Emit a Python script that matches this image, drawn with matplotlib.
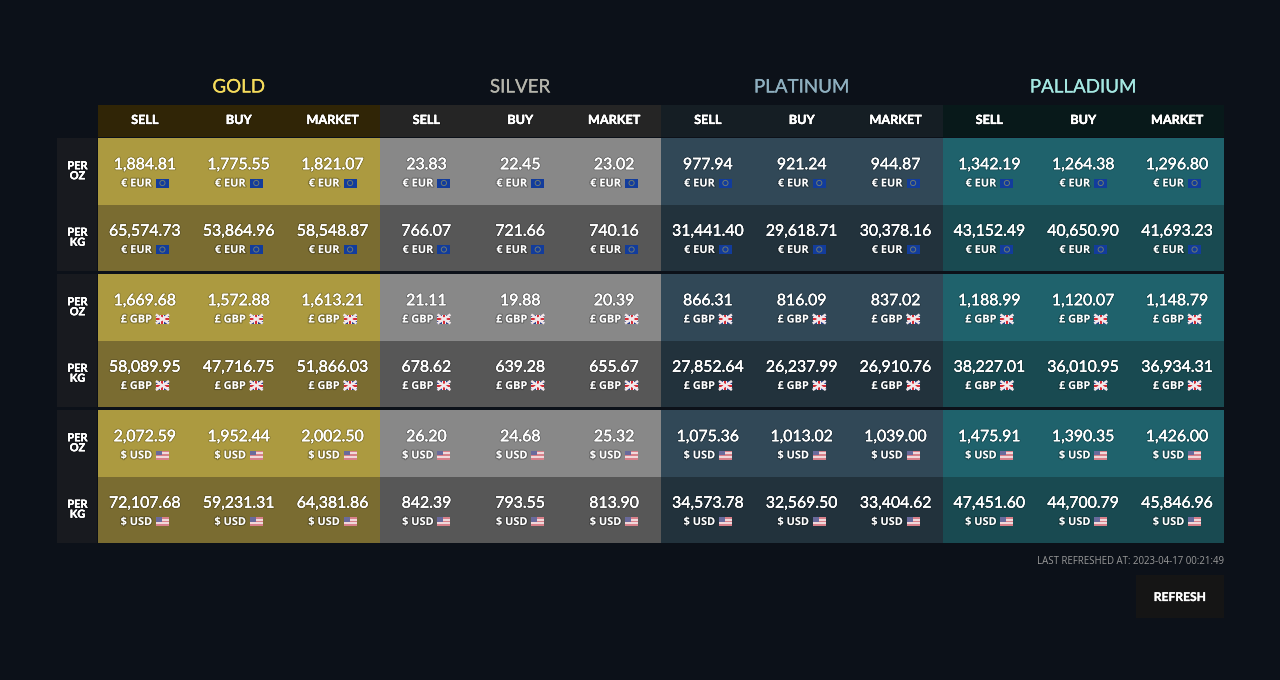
import matplotlib
matplotlib.use('Agg')
import matplotlib.pyplot as plt
import matplotlib.patheffects as pe
from matplotlib.patches import Rectangle

metals = ['GOLD', 'SILVER', 'PLATINUM', 'PALLADIUM']
columns = ['SELL', 'BUY', 'MARKET']
units = [['PER', 'OZ'], ['PER', 'KG']]
currencies = ['€ EUR', '£ GBP', '$ USD']

# one list per row: gold, silver, platinum, palladium (sell, buy, market)
eur_oz = ['1,884.81', '1,775.55', '1,821.07', '23.83', '22.45', '23.02',
          '977.94', '921.24', '944.87', '1,342.19', '1,264.38', '1,296.80']
eur_kg = ['65,574.73', '53,864.96', '58,548.87', '766.07', '721.66', '740.16',
          '31,441.40', '29,618.71', '30,378.16', '43,152.49', '40,650.90', '41,693.23']
gbp_oz = ['1,669.68', '1,572.88', '1,613.21', '21.11', '19.88', '20.39',
          '866.31', '816.09', '837.02', '1,188.99', '1,120.07', '1,148.79']
gbp_kg = ['58,089.95', '47,716.75', '51,866.03', '678.62', '639.28', '655.67',
          '27,852.64', '26,237.99', '26,910.76', '38,227.01', '36,010.95', '36,934.31']
usd_oz = ['2,072.59', '1,952.44', '2,002.50', '26.20', '24.68', '25.32',
          '1,075.36', '1,013.02', '1,039.00', '1,475.91', '1,390.35', '1,426.00']
usd_kg = ['72,107.68', '59,231.31', '64,381.86', '842.39', '793.55', '813.90',
          '34,573.78', '32,569.50', '33,404.62', '47,451.60', '44,700.79', '45,846.96']
rows = [eur_oz, eur_kg, gbp_oz, gbp_kg, usd_oz, usd_kg]

title_colors = ['#f6dc5c', '#b5b5ac', '#8fb0c0', '#a5e8e2']
head_colors = ['#302506', '#252525', '#151e24', '#08191a']
light_colors = ['#ac9a40', '#888888', '#314857', '#1f626c']
dark_colors = ['#7a6c31', '#575757', '#22323c', '#194a51']

bg = '#0c1119'
label_bg = '#181a1f'
row_tops = [138, 204.5, 274, 340.5, 410, 476.5]
row_h = 66.5
left = 98
metal_w = 281.5
col_w = metal_w / 3

# thin dark halo behind the text, the page uses a text shadow
shadow = [pe.withStroke(linewidth=1.6, foreground='#000000', alpha=0.25)]
heavy = [pe.withStroke(linewidth=1.6, foreground='#000000', alpha=0.25),
         pe.withStroke(linewidth=0.2, foreground='white')]


def flag(ax, x, y, cur):
    # small currency flag, 13x9 px, x is the left edge and y the centre
    w, h = 13, 9
    top = y - h / 2
    if cur == 0:
        ax.add_patch(Rectangle((x, top), w, h, fc='#123c9c', ec='none'))
        ax.add_patch(plt.Circle((x + w / 2, y), 2.6, fc='none', ec='#6f7a70', lw=0.7))
    elif cur == 1:
        ax.add_patch(Rectangle((x, top), w, h, fc='#2a3f90', ec='none'))
        ax.plot([x, x + w], [top, top + h], color='#f2e8ea', lw=1.8, solid_capstyle='butt')
        ax.plot([x, x + w], [top + h, top], color='#f2e8ea', lw=1.8, solid_capstyle='butt')
        ax.add_patch(Rectangle((x + w / 2 - 2, top), 4, h, fc='#f2e8ea', ec='none'))
        ax.add_patch(Rectangle((x, y - 2), w, 4, fc='#f2e8ea', ec='none'))
        ax.add_patch(Rectangle((x + w / 2 - 1, top), 2, h, fc='#d62b35', ec='none'))
        ax.add_patch(Rectangle((x, y - 1), w, 2, fc='#d62b35', ec='none'))
    else:
        ax.add_patch(Rectangle((x, top), w, h, fc='#f0d8da', ec='none'))
        for k in range(0, 5, 2):
            ax.add_patch(Rectangle((x, top + k * 1.8), w, 1.8, fc='#d8808a', ec='none'))
        ax.add_patch(Rectangle((x, top), 6, 4.5, fc='#6a6a9c', ec='none'))


fig = plt.figure(figsize=(12.8, 6.8), dpi=100, facecolor=bg)
ax = fig.add_axes([0, 0, 1, 1])
ax.set_xlim(0, 1280)
ax.set_ylim(680, 0)
ax.axis('off')

for m, metal in enumerate(metals):
    x0 = left + m * metal_w
    t = ax.text(x0 + metal_w / 2, 92.5, metal, color=title_colors[m], fontsize=13.5,
                family='Lato', ha='center', va='baseline')
    t.set_path_effects([pe.withStroke(linewidth=0.15, foreground=title_colors[m])])
    ax.add_patch(Rectangle((x0, 105), metal_w, 32, fc=head_colors[m], ec='none'))
    for c, col in enumerate(columns):
        t = ax.text(x0 + (c + 0.5) * col_w, 124, col, color='white', fontsize=9.1,
                    family='Lato', fontweight='bold', ha='center', va='baseline')
        t.set_path_effects(heavy)

for r, top in enumerate(row_tops):
    cur = r // 2
    unit = units[r % 2]
    ax.add_patch(Rectangle((57, top), 39.5, row_h, fc=label_bg, ec='none'))
    for k, word in enumerate(unit):
        t = ax.text(77.5, top + 31.2 + k * 10, word, color='white', fontsize=7.9,
                    family='Lato', fontweight='bold', ha='center', va='baseline')
        t.set_path_effects(heavy)
    for m in range(4):
        x0 = left + m * metal_w
        shade = light_colors[m] if r % 2 == 0 else dark_colors[m]
        ax.add_patch(Rectangle((x0, top), metal_w, row_h, fc=shade, ec='none'))
        for c in range(3):
            cx = x0 + (c + 0.5) * col_w
            t = ax.text(cx, top + 31.2, rows[r][m * 3 + c], color='white', fontsize=11.4,
                        family='Lato', ha='center', va='baseline')
            t.set_path_effects([pe.withStroke(linewidth=1.6, foreground='#000000', alpha=0.2),
                                pe.withStroke(linewidth=0.08, foreground='white')])
            t = ax.text(cx - 8.5, top + 48.5, currencies[cur], color='white', fontsize=7.9,
                        family='Open Sans', fontweight='bold', ha='center', va='baseline')
            t.set_path_effects(shadow)
            flag(ax, cx + 11, top + 45, cur)

ax.text(1224, 561.5, 'LAST REFRESHED AT: 2023-04-17 00:21:49', color='#9a9a9a',
        fontsize=6.95, family='Open Sans', ha='right', va='center')
ax.add_patch(Rectangle((1136, 575), 88, 43, fc='#151515', ec='none'))
t = ax.text(1180, 601, 'REFRESH', color='white', fontsize=8.7, family='Lato',
            fontweight='bold', ha='center', va='baseline')
t.set_path_effects([pe.withStroke(linewidth=0.2, foreground='white')])

fig.savefig('out.png', dpi=100, facecolor=bg)
